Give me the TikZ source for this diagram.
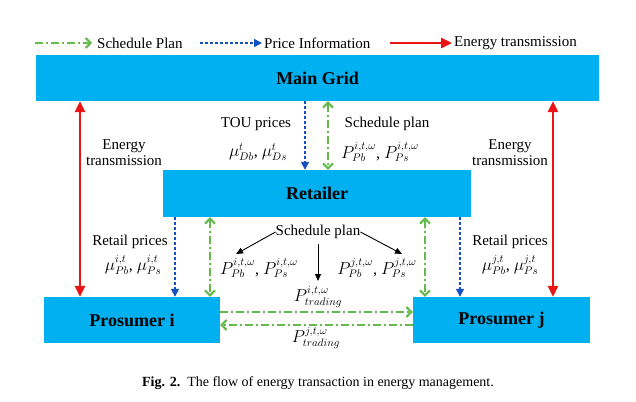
\documentclass[tikz,border=0pt]{standalone}
\usepackage{fontspec}
\setmainfont{Liberation Serif}
\usetikzlibrary{arrows.meta}
\definecolor{boxc}{RGB}{0,176,240}
\definecolor{grn}{RGB}{100,185,75}
\definecolor{blu}{RGB}{20,80,190}
\definecolor{rd}{RGB}{235,20,20}
\begin{document}
\begin{tikzpicture}[x=1pt,y=-1pt,
  box/.style={fill=boxc,draw=none,font=\fontsize{18}{20}\selectfont\bfseries,inner sep=0},
  lab/.style={font=\fontsize{15}{15}\selectfont,inner sep=0,align=center},
  mth/.style={font=\fontsize{16}{16}\selectfont,inner sep=0,align=center},
  sch/.style={draw=grn,line width=2.2pt,dash pattern=on 8pt off 3pt on 2pt off 3pt,-{Straight Barb[length=5pt,width=10pt,line width=2pt]}},
  schd/.style={sch,{Straight Barb[length=5pt,width=10pt,line width=2pt]}-{Straight Barb[length=5pt,width=10pt,line width=2pt]}},
  pri/.style={draw=blu,line width=1.6pt,dash pattern=on 3pt off 2pt,-{Triangle[length=8pt,width=8pt]}},
  eng/.style={draw=rd,line width=2.6pt,-{Triangle[length=11pt,width=10pt]}},
  engd/.style={eng,{Triangle[length=11pt,width=10pt]}-{Triangle[length=11pt,width=10pt]}},
  blk/.style={draw=black,line width=0.9pt,-{Triangle[length=7pt,width=6pt]}}]
\useasboundingbox[fill=white] (0,0) rectangle (636,401);
% legend
\coordinate (l1a) at (35,43); \coordinate (l1b) at (92,43);
\draw[sch] (l1a) -- (l1b);
\node[lab,anchor=west] (t1) at (97,43) {Schedule Plan};
\coordinate (l2a) at (200,43); \coordinate (l2b) at (262,43);
\draw[pri] (l2a) -- (l2b);
\node[lab,anchor=west] (t2) at (264,43) {Price Information};
\coordinate (l3a) at (390,43); \coordinate (l3b) at (452,43);
\draw[eng] (l3a) -- (l3b);
\node[lab,anchor=west] (t3) at (454,43) {Energy transmission\vphantom{P}};
% boxes
\node[box,minimum width=563,minimum height=46] (mg) at (317.5,78) {Main Grid};
\node[box,minimum width=308,minimum height=47] (rt) at (317,193.5) {Retailer};
\node[box,minimum width=176,minimum height=46] (pi) at (132,320) {Prosumer i};
\node[box,minimum width=177,minimum height=46] (pj) at (501.5,320) {Prosumer j};
% energy
\draw[engd] (pi.north -| 80,0) -- (mg.south -| 80,0);
\draw[engd] (pj.north -| 553,0) -- (mg.south -| 553,0);
\node[lab] (e1) at (124,153) {Energy\\[1pt]transmission};
\node[lab] (e2) at (510,153) {Energy\\[1pt]transmission};
% main - retailer
\draw[pri] (mg.south -| 305,0) -- (rt.north -| 305,0);
\draw[schd] (mg.south -| 328,0) -- (rt.north -| 328,0);
\node[lab] (tou) at (256,124) {TOU prices};
\node[mth] (tmu) at (258,152) {$\mu^t_{Db}$, $\mu^t_{Ds}$};
\node[lab] (sp1) at (387,124) {Schedule plan};
\node[mth] (sp1p) at (380,152) {$P^{i,t,\omega}_{Pb}$, $P^{i,t,\omega}_{Ps}$};
% retailer - prosumers
\draw[pri] (rt.south -| 175,0) -- (pi.north -| 175,0);
\draw[schd] (rt.south -| 210,0) -- (pi.north -| 210,0);
\draw[schd] (rt.south -| 425,0) -- (pj.north -| 425,0);
\draw[pri] (rt.south -| 460,0) -- (pj.north -| 460,0);
\node[lab] (rp1) at (130,242) {Retail prices};
\node[mth] (rm1) at (133,265) {$\mu^{i,t}_{Pb}$, $\mu^{i,t}_{Ps}$};
\node[lab] (rp2) at (510,242) {Retail prices};
\node[mth] (rm2) at (510,265) {$\mu^{j,t}_{Pb}$, $\mu^{j,t}_{Ps}$};
\node[lab] (sp2) at (318,232) {Schedule plan};
\node[mth] (pa) at (259,268) {$P^{i,t,\omega}_{Pb}$, $P^{i,t,\omega}_{Ps}$};
\node[mth] (pb) at (377,268) {$P^{j,t,\omega}_{Pb}$, $P^{j,t,\omega}_{Ps}$};
\coordinate (ka) at (236,254); \coordinate (kb) at (402,254);
\coordinate (kc0) at (318,244); \coordinate (kc) at (318,281);
\draw[blk] (sp2.west) -- (ka);
\draw[blk] (sp2.east) -- (kb);
\draw[blk] (kc0) -- (kc);
\node[mth] (tr1) at (318,297) {$P^{i,t,\omega}_{trading}$};
\node[mth] (tr2) at (316,338) {$P^{j,t,\omega}_{trading}$};
\draw[sch] (pi.east |- 0,312) -- (pj.west |- 0,312);
\draw[sch] (pj.west |- 0,325) -- (pi.east |- 0,325);
% caption
\node[inner sep=0,font=\fontsize{14}{16}\selectfont] (cap) at (318,383) {\textbf{Fig. 2.}\ \ The flow of energy transaction in energy management.};
\end{tikzpicture}
\end{document}
